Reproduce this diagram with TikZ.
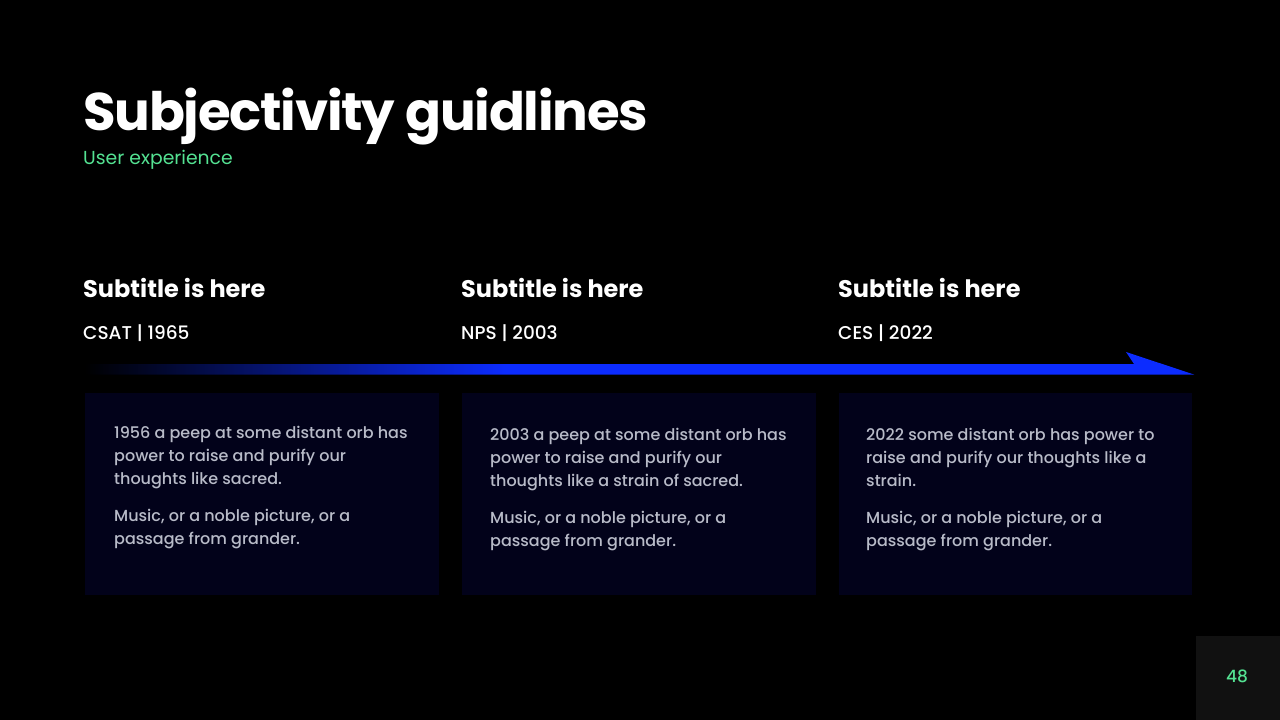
\documentclass[tikz,border=0pt]{standalone}
\usepackage{fontspec}
\setmainfont{Poppins}
\newfontfamily\titlefont[LetterSpace=-2.3]{Poppins Bold}
\newfontfamily\mediumfont{Poppins Medium}
\definecolor{arrowblue}{RGB}{12,44,255}
\definecolor{boxnavy}{RGB}{2,2,26}
\definecolor{bodygray}{RGB}{184,187,200}
\definecolor{mint}{RGB}{84,226,146}
\definecolor{pagegray}{RGB}{17,17,17}
\pgfdeclarehorizontalshading{timeline}{100bp}{color(0bp)=(black); color(25bp)=(black); color(44bp)=(arrowblue); color(75bp)=(arrowblue); color(100bp)=(arrowblue)}
\begin{document}
\begin{tikzpicture}[x=1pt,y=-1pt]

        \fill[black] (0,0) rectangle (1280,720);
        \useasboundingbox (0,0) rectangle (1280,720);

        % cards and page tab
        \fill[boxnavy] (85,393) rectangle (439,595);
        \fill[boxnavy] (462,393) rectangle (816,595);
        \fill[boxnavy] (839,393) rectangle (1192,595);
        \fill[pagegray] (1196,636) rectangle (1280,720);

        % timeline arrow
        \shade[shading=timeline] (85,364) -- (1134,364) -- (1126,352)
          -- (1194,374.5) -- (85,374.5) -- cycle;

        \begin{scope}[every node/.style={anchor=base west,inner sep=0pt,text=white}]
          \node (title) at (83,130) {\fontsize{53}{60}\titlefont Subjectivity guidlines};
          \node[text=mint] (sub) at (83,164) {\fontsize{18.8}{22}\selectfont User experience};

          \node (h1) at (83,297) {\fontsize{24}{28}\selectfont\bfseries Subtitle is here};
          \node (h2) at (461,297) {\fontsize{24}{28}\selectfont\bfseries Subtitle is here};
          \node (h3) at (838,297) {\fontsize{24}{28}\selectfont\bfseries Subtitle is here};

          \node (y1) at (83,339) {\fontsize{18.5}{22}\mediumfont CSAT | 1965};
          \node (y2) at (461,339) {\fontsize{18.5}{22}\mediumfont NPS | 2003};
          \node (y3) at (838,339) {\fontsize{18.5}{22}\mediumfont CES | 2022};

          \node[anchor=center,text=mint] (page) at (1237,676) {\fontsize{17}{18}\mediumfont 48};
        \end{scope}

        \begin{scope}[every node/.style={anchor=north west,inner sep=0pt,align=left,
            text=bodygray,font=\fontsize{16}{23}\mediumfont}]
          \node (p1) at (114,426) {1956 a peep at some distant orb has\\power to raise and purify our\\thoughts like sacred.};
          \node (q1) at (114,509) {Music, or a noble picture, or a\\passage from grander.};
          \node (p2) at (490,428) {2003 a peep at some distant orb has\\power to raise and purify our\\thoughts like a strain of sacred.};
          \node (q2) at (490,511) {Music, or a noble picture, or a\\passage from grander.};
          \node (p3) at (866,428) {2022 some distant orb has power to\\raise and purify our thoughts like a\\strain.};
          \node (q3) at (866,511) {Music, or a noble picture, or a\\passage from grander.};
        \end{scope}

      \end{tikzpicture}
\end{document}
